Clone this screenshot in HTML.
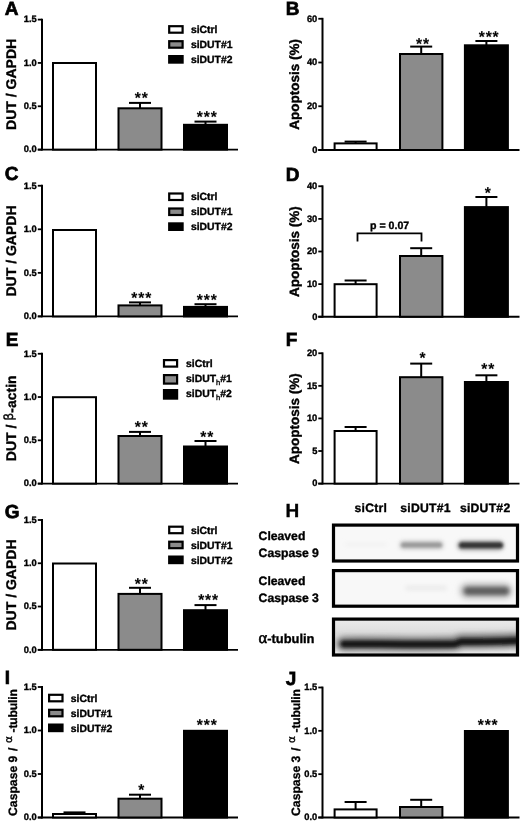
<!DOCTYPE html>
<html><head><meta charset="utf-8"><style>
html,body{margin:0;padding:0;background:#fff;}
text{text-rendering:geometricPrecision;}
svg{display:block;}
text{stroke:#000;stroke-width:0.35px;}
text.st{stroke-width:0.1px;}
text.rl{stroke-width:0.3px;}
text.lt{stroke-width:0.7px;}
</style></head><body>
<svg width="520" height="822" viewBox="0 0 520 822" font-family="&quot;Liberation Sans&quot;, Arial, sans-serif">
<rect width="520" height="822" fill="#fff"/>
<line x1="42.00" y1="18.70" x2="42.00" y2="150.50" stroke="#000" stroke-width="2"/>
<line x1="37.80" y1="149.60" x2="238.00" y2="149.60" stroke="#000" stroke-width="1.8"/>
<line x1="37.80" y1="149.60" x2="42.00" y2="149.60" stroke="#000" stroke-width="1.8"/>
<text x="36.80" y="152.40" font-size="9.3" font-weight="bold" text-anchor="end">0.0</text>
<line x1="37.80" y1="106.27" x2="42.00" y2="106.27" stroke="#000" stroke-width="1.8"/>
<text x="36.80" y="109.07" font-size="9.3" font-weight="bold" text-anchor="end">0.5</text>
<line x1="37.80" y1="62.93" x2="42.00" y2="62.93" stroke="#000" stroke-width="1.8"/>
<text x="36.80" y="65.73" font-size="9.3" font-weight="bold" text-anchor="end">1.0</text>
<line x1="37.80" y1="19.60" x2="42.00" y2="19.60" stroke="#000" stroke-width="1.8"/>
<text x="36.80" y="22.40" font-size="9.3" font-weight="bold" text-anchor="end">1.5</text>
<rect x="53.00" y="63.00" width="43.00" height="86.60" fill="#fff" stroke="#000" stroke-width="2.0"/>
<rect x="118.50" y="108.30" width="43.00" height="41.30" fill="#8b8b8b" stroke="#000" stroke-width="2.0"/>
<rect x="184.00" y="124.80" width="43.00" height="24.80" fill="#000" stroke="#000" stroke-width="2.0"/>
<line x1="140.00" y1="102.90" x2="140.00" y2="108.30" stroke="#000" stroke-width="2"/>
<line x1="129.00" y1="102.90" x2="151.00" y2="102.90" stroke="#000" stroke-width="2"/>
<line x1="205.50" y1="121.60" x2="205.50" y2="124.80" stroke="#000" stroke-width="2"/>
<line x1="194.50" y1="121.60" x2="216.50" y2="121.60" stroke="#000" stroke-width="2"/>
<text x="141.75" y="102.96" font-size="15.5" font-weight="bold" text-anchor="middle" letter-spacing="0.9" class="st">**</text>
<text x="207.25" y="121.86" font-size="15.5" font-weight="bold" text-anchor="middle" letter-spacing="0.9" class="st">***</text>
<text x="4.75" y="14.90" font-size="19.0" font-weight="bold" class="lt">A</text>
<text transform="translate(16.00,84.40) rotate(-90)" font-size="14" font-weight="bold" text-anchor="middle">DUT / GAPDH</text>
<rect x="169.20" y="26.20" width="13.40" height="6.50" fill="#fff" stroke="#000" stroke-width="2.2"/>
<text x="190.90" y="33.10" font-size="10.4" font-weight="bold">siCtrl</text>
<rect x="169.20" y="41.20" width="13.40" height="6.50" fill="#8b8b8b" stroke="#000" stroke-width="2.2"/>
<text x="190.90" y="48.10" font-size="10.4" font-weight="bold">siDUT#1</text>
<rect x="169.20" y="56.10" width="13.40" height="6.50" fill="#000" stroke="#000" stroke-width="2.2"/>
<text x="190.90" y="63.00" font-size="10.4" font-weight="bold">siDUT#2</text>
<line x1="322.50" y1="17.85" x2="322.50" y2="150.90" stroke="#000" stroke-width="2"/>
<line x1="318.30" y1="150.00" x2="519.50" y2="150.00" stroke="#000" stroke-width="1.8"/>
<line x1="318.30" y1="150.00" x2="322.50" y2="150.00" stroke="#000" stroke-width="1.8"/>
<text x="317.30" y="152.80" font-size="9.3" font-weight="bold" text-anchor="end">0</text>
<line x1="318.30" y1="106.25" x2="322.50" y2="106.25" stroke="#000" stroke-width="1.8"/>
<text x="317.30" y="109.05" font-size="9.3" font-weight="bold" text-anchor="end">20</text>
<line x1="318.30" y1="62.50" x2="322.50" y2="62.50" stroke="#000" stroke-width="1.8"/>
<text x="317.30" y="65.30" font-size="9.3" font-weight="bold" text-anchor="end">40</text>
<line x1="318.30" y1="18.75" x2="322.50" y2="18.75" stroke="#000" stroke-width="1.8"/>
<text x="317.30" y="21.55" font-size="9.3" font-weight="bold" text-anchor="end">60</text>
<rect x="334.60" y="143.40" width="42.00" height="6.60" fill="#fff" stroke="#000" stroke-width="2.0"/>
<rect x="400.00" y="54.00" width="42.40" height="96.00" fill="#8b8b8b" stroke="#000" stroke-width="2.0"/>
<rect x="464.90" y="45.30" width="43.00" height="104.70" fill="#000" stroke="#000" stroke-width="2.0"/>
<line x1="355.60" y1="141.60" x2="355.60" y2="143.40" stroke="#000" stroke-width="2"/>
<line x1="344.60" y1="141.60" x2="366.60" y2="141.60" stroke="#000" stroke-width="2"/>
<line x1="421.20" y1="46.60" x2="421.20" y2="54.00" stroke="#000" stroke-width="2"/>
<line x1="410.20" y1="46.60" x2="432.20" y2="46.60" stroke="#000" stroke-width="2"/>
<line x1="486.40" y1="41.00" x2="486.40" y2="45.30" stroke="#000" stroke-width="2"/>
<line x1="475.40" y1="41.00" x2="497.40" y2="41.00" stroke="#000" stroke-width="2"/>
<text x="422.95" y="49.16" font-size="15.5" font-weight="bold" text-anchor="middle" letter-spacing="0.9" class="st">**</text>
<text x="489.15" y="42.26" font-size="15.5" font-weight="bold" text-anchor="middle" letter-spacing="0.9" class="st">***</text>
<text x="285.65" y="14.90" font-size="19.0" font-weight="bold" class="lt">B</text>
<text transform="translate(299.10,84.40) rotate(-90)" font-size="13.5" font-weight="bold" text-anchor="middle">Apoptosis (%)</text>
<line x1="42.00" y1="184.85" x2="42.00" y2="317.30" stroke="#000" stroke-width="2"/>
<line x1="37.80" y1="316.40" x2="238.00" y2="316.40" stroke="#000" stroke-width="1.8"/>
<line x1="37.80" y1="316.40" x2="42.00" y2="316.40" stroke="#000" stroke-width="1.8"/>
<text x="36.80" y="319.20" font-size="9.3" font-weight="bold" text-anchor="end">0.0</text>
<line x1="37.80" y1="272.85" x2="42.00" y2="272.85" stroke="#000" stroke-width="1.8"/>
<text x="36.80" y="275.65" font-size="9.3" font-weight="bold" text-anchor="end">0.5</text>
<line x1="37.80" y1="229.30" x2="42.00" y2="229.30" stroke="#000" stroke-width="1.8"/>
<text x="36.80" y="232.10" font-size="9.3" font-weight="bold" text-anchor="end">1.0</text>
<line x1="37.80" y1="185.75" x2="42.00" y2="185.75" stroke="#000" stroke-width="1.8"/>
<text x="36.80" y="188.55" font-size="9.3" font-weight="bold" text-anchor="end">1.5</text>
<rect x="53.00" y="230.00" width="43.00" height="86.40" fill="#fff" stroke="#000" stroke-width="2.0"/>
<rect x="118.50" y="305.40" width="43.00" height="11.00" fill="#8b8b8b" stroke="#000" stroke-width="2.0"/>
<rect x="184.00" y="306.90" width="43.00" height="9.50" fill="#000" stroke="#000" stroke-width="2.0"/>
<line x1="140.00" y1="302.40" x2="140.00" y2="305.40" stroke="#000" stroke-width="2"/>
<line x1="129.00" y1="302.40" x2="151.00" y2="302.40" stroke="#000" stroke-width="2"/>
<line x1="205.50" y1="304.20" x2="205.50" y2="306.90" stroke="#000" stroke-width="2"/>
<line x1="194.50" y1="304.20" x2="216.50" y2="304.20" stroke="#000" stroke-width="2"/>
<text x="141.75" y="302.66" font-size="15.5" font-weight="bold" text-anchor="middle" letter-spacing="0.9" class="st">***</text>
<text x="207.25" y="304.66" font-size="15.5" font-weight="bold" text-anchor="middle" letter-spacing="0.9" class="st">***</text>
<text x="4.75" y="180.40" font-size="19.0" font-weight="bold" class="lt">C</text>
<text transform="translate(16.00,251.00) rotate(-90)" font-size="14" font-weight="bold" text-anchor="middle">DUT / GAPDH</text>
<rect x="169.20" y="193.50" width="13.40" height="6.50" fill="#fff" stroke="#000" stroke-width="2.2"/>
<text x="190.90" y="200.40" font-size="10.4" font-weight="bold">siCtrl</text>
<rect x="169.20" y="208.50" width="13.40" height="6.50" fill="#8b8b8b" stroke="#000" stroke-width="2.2"/>
<text x="190.90" y="215.40" font-size="10.4" font-weight="bold">siDUT#1</text>
<rect x="169.20" y="223.40" width="13.40" height="6.50" fill="#000" stroke="#000" stroke-width="2.2"/>
<text x="190.90" y="230.30" font-size="10.4" font-weight="bold">siDUT#2</text>
<line x1="322.50" y1="185.35" x2="322.50" y2="317.65" stroke="#000" stroke-width="2"/>
<line x1="318.30" y1="316.75" x2="519.50" y2="316.75" stroke="#000" stroke-width="1.8"/>
<line x1="318.30" y1="316.75" x2="322.50" y2="316.75" stroke="#000" stroke-width="1.8"/>
<text x="317.30" y="319.55" font-size="9.3" font-weight="bold" text-anchor="end">0</text>
<line x1="318.30" y1="284.12" x2="322.50" y2="284.12" stroke="#000" stroke-width="1.8"/>
<text x="317.30" y="286.93" font-size="9.3" font-weight="bold" text-anchor="end">10</text>
<line x1="318.30" y1="251.50" x2="322.50" y2="251.50" stroke="#000" stroke-width="1.8"/>
<text x="317.30" y="254.30" font-size="9.3" font-weight="bold" text-anchor="end">20</text>
<line x1="318.30" y1="218.88" x2="322.50" y2="218.88" stroke="#000" stroke-width="1.8"/>
<text x="317.30" y="221.68" font-size="9.3" font-weight="bold" text-anchor="end">30</text>
<line x1="318.30" y1="186.25" x2="322.50" y2="186.25" stroke="#000" stroke-width="1.8"/>
<text x="317.30" y="189.05" font-size="9.3" font-weight="bold" text-anchor="end">40</text>
<rect x="334.60" y="284.20" width="42.00" height="32.55" fill="#fff" stroke="#000" stroke-width="2.0"/>
<rect x="400.00" y="256.00" width="42.40" height="60.75" fill="#8b8b8b" stroke="#000" stroke-width="2.0"/>
<rect x="464.90" y="207.10" width="43.00" height="109.65" fill="#000" stroke="#000" stroke-width="2.0"/>
<line x1="355.60" y1="280.50" x2="355.60" y2="284.20" stroke="#000" stroke-width="2"/>
<line x1="344.60" y1="280.50" x2="366.60" y2="280.50" stroke="#000" stroke-width="2"/>
<line x1="421.20" y1="248.20" x2="421.20" y2="256.00" stroke="#000" stroke-width="2"/>
<line x1="410.20" y1="248.20" x2="432.20" y2="248.20" stroke="#000" stroke-width="2"/>
<line x1="486.40" y1="197.00" x2="486.40" y2="207.10" stroke="#000" stroke-width="2"/>
<line x1="475.40" y1="197.00" x2="497.40" y2="197.00" stroke="#000" stroke-width="2"/>
<text x="488.15" y="197.96" font-size="15.5" font-weight="bold" text-anchor="middle" letter-spacing="0.9" class="st">*</text>
<text x="285.65" y="180.70" font-size="19.0" font-weight="bold" class="lt">D</text>
<text transform="translate(299.10,251.50) rotate(-90)" font-size="13.5" font-weight="bold" text-anchor="middle">Apoptosis (%)</text>
<path d="M357.5,241.5 V233.3 H421.5 V241.5" fill="none" stroke="#000" stroke-width="1.8"/>
<text x="389.6" y="229.0" font-size="10.6" font-weight="bold" text-anchor="middle">p = 0.07</text>
<line x1="42.00" y1="352.85" x2="42.00" y2="484.50" stroke="#000" stroke-width="2"/>
<line x1="37.80" y1="483.60" x2="238.00" y2="483.60" stroke="#000" stroke-width="1.8"/>
<line x1="37.80" y1="483.60" x2="42.00" y2="483.60" stroke="#000" stroke-width="1.8"/>
<text x="36.80" y="486.40" font-size="9.3" font-weight="bold" text-anchor="end">0.0</text>
<line x1="37.80" y1="440.32" x2="42.00" y2="440.32" stroke="#000" stroke-width="1.8"/>
<text x="36.80" y="443.12" font-size="9.3" font-weight="bold" text-anchor="end">0.5</text>
<line x1="37.80" y1="397.03" x2="42.00" y2="397.03" stroke="#000" stroke-width="1.8"/>
<text x="36.80" y="399.83" font-size="9.3" font-weight="bold" text-anchor="end">1.0</text>
<line x1="37.80" y1="353.75" x2="42.00" y2="353.75" stroke="#000" stroke-width="1.8"/>
<text x="36.80" y="356.55" font-size="9.3" font-weight="bold" text-anchor="end">1.5</text>
<rect x="53.00" y="397.20" width="43.00" height="86.40" fill="#fff" stroke="#000" stroke-width="2.0"/>
<rect x="118.50" y="436.00" width="43.00" height="47.60" fill="#8b8b8b" stroke="#000" stroke-width="2.0"/>
<rect x="184.00" y="446.50" width="43.00" height="37.10" fill="#000" stroke="#000" stroke-width="2.0"/>
<line x1="140.00" y1="431.90" x2="140.00" y2="436.00" stroke="#000" stroke-width="2"/>
<line x1="129.00" y1="431.90" x2="151.00" y2="431.90" stroke="#000" stroke-width="2"/>
<line x1="205.50" y1="441.00" x2="205.50" y2="446.50" stroke="#000" stroke-width="2"/>
<line x1="194.50" y1="441.00" x2="216.50" y2="441.00" stroke="#000" stroke-width="2"/>
<text x="141.75" y="432.46" font-size="15.5" font-weight="bold" text-anchor="middle" letter-spacing="0.9" class="st">**</text>
<text x="207.25" y="442.46" font-size="15.5" font-weight="bold" text-anchor="middle" letter-spacing="0.9" class="st">**</text>
<text x="5.65" y="346.20" font-size="19.0" font-weight="bold" class="lt">E</text>
<text transform="translate(15.60,418.30) rotate(-90)" font-size="14" font-weight="bold" text-anchor="middle">DUT / <tspan font-family="DejaVu Sans" font-weight="normal" font-size="12.5" dy="-2.6">β</tspan><tspan dy="2.6">-actin</tspan></text>
<rect x="164.00" y="360.10" width="13.10" height="6.50" fill="#fff" stroke="#000" stroke-width="2.2"/>
<text x="186.00" y="367.00" font-size="10.4" font-weight="bold">siCtrl</text>
<rect x="164.00" y="375.10" width="13.10" height="8.50" fill="#8b8b8b" stroke="#000" stroke-width="2.2"/>
<text x="186.00" y="382.00" font-size="10.4" font-weight="bold">siDUT<tspan font-size="7.5" font-weight="normal" dy="2.5">h</tspan><tspan dy="-2.5">#1</tspan></text>
<rect x="164.00" y="390.10" width="13.10" height="8.50" fill="#000" stroke="#000" stroke-width="2.2"/>
<text x="186.00" y="397.00" font-size="10.4" font-weight="bold">siDUT<tspan font-size="7.5" font-weight="normal" dy="2.5">h</tspan><tspan dy="-2.5">#2</tspan></text>
<line x1="322.50" y1="352.35" x2="322.50" y2="484.50" stroke="#000" stroke-width="2"/>
<line x1="318.30" y1="483.60" x2="519.50" y2="483.60" stroke="#000" stroke-width="1.8"/>
<line x1="318.30" y1="483.60" x2="322.50" y2="483.60" stroke="#000" stroke-width="1.8"/>
<text x="317.30" y="486.40" font-size="9.3" font-weight="bold" text-anchor="end">0</text>
<line x1="318.30" y1="451.01" x2="322.50" y2="451.01" stroke="#000" stroke-width="1.8"/>
<text x="317.30" y="453.81" font-size="9.3" font-weight="bold" text-anchor="end">5</text>
<line x1="318.30" y1="418.43" x2="322.50" y2="418.43" stroke="#000" stroke-width="1.8"/>
<text x="317.30" y="421.23" font-size="9.3" font-weight="bold" text-anchor="end">10</text>
<line x1="318.30" y1="385.84" x2="322.50" y2="385.84" stroke="#000" stroke-width="1.8"/>
<text x="317.30" y="388.64" font-size="9.3" font-weight="bold" text-anchor="end">15</text>
<line x1="318.30" y1="353.25" x2="322.50" y2="353.25" stroke="#000" stroke-width="1.8"/>
<text x="317.30" y="356.05" font-size="9.3" font-weight="bold" text-anchor="end">20</text>
<rect x="334.60" y="431.00" width="42.00" height="52.60" fill="#fff" stroke="#000" stroke-width="2.0"/>
<rect x="400.00" y="377.20" width="42.40" height="106.40" fill="#8b8b8b" stroke="#000" stroke-width="2.0"/>
<rect x="464.90" y="382.00" width="43.00" height="101.60" fill="#000" stroke="#000" stroke-width="2.0"/>
<line x1="355.60" y1="427.00" x2="355.60" y2="431.00" stroke="#000" stroke-width="2"/>
<line x1="344.60" y1="427.00" x2="366.60" y2="427.00" stroke="#000" stroke-width="2"/>
<line x1="421.20" y1="363.60" x2="421.20" y2="377.20" stroke="#000" stroke-width="2"/>
<line x1="410.20" y1="363.60" x2="432.20" y2="363.60" stroke="#000" stroke-width="2"/>
<line x1="486.40" y1="375.30" x2="486.40" y2="382.00" stroke="#000" stroke-width="2"/>
<line x1="475.40" y1="375.30" x2="497.40" y2="375.30" stroke="#000" stroke-width="2"/>
<text x="422.95" y="363.46" font-size="15.5" font-weight="bold" text-anchor="middle" letter-spacing="0.9" class="st">*</text>
<text x="488.15" y="374.46" font-size="15.5" font-weight="bold" text-anchor="middle" letter-spacing="0.9" class="st">**</text>
<text x="285.65" y="346.20" font-size="19.0" font-weight="bold" class="lt">F</text>
<text transform="translate(299.10,418.50) rotate(-90)" font-size="13.5" font-weight="bold" text-anchor="middle">Apoptosis (%)</text>
<line x1="42.00" y1="519.10" x2="42.00" y2="650.70" stroke="#000" stroke-width="2"/>
<line x1="37.80" y1="649.80" x2="238.00" y2="649.80" stroke="#000" stroke-width="1.8"/>
<line x1="37.80" y1="649.80" x2="42.00" y2="649.80" stroke="#000" stroke-width="1.8"/>
<text x="36.80" y="652.60" font-size="9.3" font-weight="bold" text-anchor="end">0.0</text>
<line x1="37.80" y1="606.53" x2="42.00" y2="606.53" stroke="#000" stroke-width="1.8"/>
<text x="36.80" y="609.33" font-size="9.3" font-weight="bold" text-anchor="end">0.5</text>
<line x1="37.80" y1="563.27" x2="42.00" y2="563.27" stroke="#000" stroke-width="1.8"/>
<text x="36.80" y="566.07" font-size="9.3" font-weight="bold" text-anchor="end">1.0</text>
<line x1="37.80" y1="520.00" x2="42.00" y2="520.00" stroke="#000" stroke-width="1.8"/>
<text x="36.80" y="522.80" font-size="9.3" font-weight="bold" text-anchor="end">1.5</text>
<rect x="53.00" y="563.50" width="43.00" height="86.30" fill="#fff" stroke="#000" stroke-width="2.0"/>
<rect x="118.50" y="593.90" width="43.00" height="55.90" fill="#8b8b8b" stroke="#000" stroke-width="2.0"/>
<rect x="184.00" y="610.20" width="43.00" height="39.60" fill="#000" stroke="#000" stroke-width="2.0"/>
<line x1="140.00" y1="587.80" x2="140.00" y2="593.90" stroke="#000" stroke-width="2"/>
<line x1="129.00" y1="587.80" x2="151.00" y2="587.80" stroke="#000" stroke-width="2"/>
<line x1="205.50" y1="605.10" x2="205.50" y2="610.20" stroke="#000" stroke-width="2"/>
<line x1="194.50" y1="605.10" x2="216.50" y2="605.10" stroke="#000" stroke-width="2"/>
<text x="141.75" y="588.56" font-size="15.5" font-weight="bold" text-anchor="middle" letter-spacing="0.9" class="st">**</text>
<text x="208.55" y="605.26" font-size="15.5" font-weight="bold" text-anchor="middle" letter-spacing="0.9" class="st">***</text>
<text x="4.75" y="517.50" font-size="19.0" font-weight="bold" class="lt">G</text>
<text transform="translate(16.00,585.00) rotate(-90)" font-size="14" font-weight="bold" text-anchor="middle">DUT / GAPDH</text>
<rect x="169.20" y="526.70" width="13.40" height="6.50" fill="#fff" stroke="#000" stroke-width="2.2"/>
<text x="190.90" y="533.60" font-size="10.4" font-weight="bold">siCtrl</text>
<rect x="169.20" y="541.70" width="13.40" height="6.50" fill="#8b8b8b" stroke="#000" stroke-width="2.2"/>
<text x="190.90" y="548.60" font-size="10.4" font-weight="bold">siDUT#1</text>
<rect x="169.20" y="556.60" width="13.40" height="6.50" fill="#000" stroke="#000" stroke-width="2.2"/>
<text x="190.90" y="563.50" font-size="10.4" font-weight="bold">siDUT#2</text>
<line x1="42.00" y1="686.10" x2="42.00" y2="818.40" stroke="#000" stroke-width="2"/>
<line x1="37.80" y1="817.50" x2="238.00" y2="817.50" stroke="#000" stroke-width="1.8"/>
<line x1="37.80" y1="817.50" x2="42.00" y2="817.50" stroke="#000" stroke-width="1.8"/>
<text x="36.80" y="820.30" font-size="9.3" font-weight="bold" text-anchor="end">0.0</text>
<line x1="37.80" y1="774.00" x2="42.00" y2="774.00" stroke="#000" stroke-width="1.8"/>
<text x="36.80" y="776.80" font-size="9.3" font-weight="bold" text-anchor="end">0.5</text>
<line x1="37.80" y1="730.50" x2="42.00" y2="730.50" stroke="#000" stroke-width="1.8"/>
<text x="36.80" y="733.30" font-size="9.3" font-weight="bold" text-anchor="end">1.0</text>
<line x1="37.80" y1="687.00" x2="42.00" y2="687.00" stroke="#000" stroke-width="1.8"/>
<text x="36.80" y="689.80" font-size="9.3" font-weight="bold" text-anchor="end">1.5</text>
<rect x="53.00" y="814.00" width="43.00" height="3.50" fill="#fff" stroke="#000" stroke-width="2.0"/>
<rect x="118.50" y="798.70" width="43.00" height="18.80" fill="#8b8b8b" stroke="#000" stroke-width="2.0"/>
<rect x="184.00" y="730.80" width="43.00" height="86.70" fill="#000" stroke="#000" stroke-width="2.0"/>
<line x1="74.50" y1="812.40" x2="74.50" y2="814.00" stroke="#000" stroke-width="2"/>
<line x1="63.50" y1="812.40" x2="85.50" y2="812.40" stroke="#000" stroke-width="2"/>
<line x1="140.00" y1="794.70" x2="140.00" y2="798.70" stroke="#000" stroke-width="2"/>
<line x1="129.00" y1="794.70" x2="151.00" y2="794.70" stroke="#000" stroke-width="2"/>
<text x="141.75" y="795.16" font-size="15.5" font-weight="bold" text-anchor="middle" letter-spacing="0.9" class="st">*</text>
<text x="207.25" y="730.36" font-size="15.5" font-weight="bold" text-anchor="middle" letter-spacing="0.9" class="st">***</text>
<text x="4.85" y="683.70" font-size="19.0" font-weight="bold" class="lt">I</text>
<text transform="translate(17.10,752.60) rotate(-90)" font-size="12.2" font-weight="bold" text-anchor="middle" class="rl">Caspase 9<tspan dx="1.3"> /</tspan> <tspan font-family="DejaVu Sans" font-weight="normal" font-size="10.5" dx="1.1" dy="-4.8">α</tspan><tspan dy="4.8" dx="3.7" letter-spacing="-0.19">-tubulin</tspan></text>
<rect x="49.10" y="694.80" width="13.40" height="6.50" fill="#fff" stroke="#000" stroke-width="2.2"/>
<text x="70.80" y="701.70" font-size="10.4" font-weight="bold">siCtrl</text>
<rect x="49.10" y="709.80" width="13.40" height="6.50" fill="#8b8b8b" stroke="#000" stroke-width="2.2"/>
<text x="70.80" y="716.70" font-size="10.4" font-weight="bold">siDUT#1</text>
<rect x="49.10" y="724.60" width="13.40" height="6.50" fill="#000" stroke="#000" stroke-width="2.2"/>
<text x="70.80" y="731.50" font-size="10.4" font-weight="bold">siDUT#2</text>
<line x1="322.50" y1="686.60" x2="322.50" y2="818.40" stroke="#000" stroke-width="2"/>
<line x1="318.30" y1="817.50" x2="519.50" y2="817.50" stroke="#000" stroke-width="1.8"/>
<line x1="318.30" y1="817.50" x2="322.50" y2="817.50" stroke="#000" stroke-width="1.8"/>
<text x="317.30" y="820.30" font-size="9.3" font-weight="bold" text-anchor="end">0.0</text>
<line x1="318.30" y1="774.17" x2="322.50" y2="774.17" stroke="#000" stroke-width="1.8"/>
<text x="317.30" y="776.97" font-size="9.3" font-weight="bold" text-anchor="end">0.5</text>
<line x1="318.30" y1="730.83" x2="322.50" y2="730.83" stroke="#000" stroke-width="1.8"/>
<text x="317.30" y="733.63" font-size="9.3" font-weight="bold" text-anchor="end">1.0</text>
<line x1="318.30" y1="687.50" x2="322.50" y2="687.50" stroke="#000" stroke-width="1.8"/>
<text x="317.30" y="690.30" font-size="9.3" font-weight="bold" text-anchor="end">1.5</text>
<rect x="334.60" y="809.40" width="42.00" height="8.10" fill="#fff" stroke="#000" stroke-width="2.0"/>
<rect x="400.00" y="807.00" width="42.40" height="10.50" fill="#8b8b8b" stroke="#000" stroke-width="2.0"/>
<rect x="464.90" y="731.00" width="43.00" height="86.50" fill="#000" stroke="#000" stroke-width="2.0"/>
<line x1="355.60" y1="802.00" x2="355.60" y2="809.40" stroke="#000" stroke-width="2"/>
<line x1="344.60" y1="802.00" x2="366.60" y2="802.00" stroke="#000" stroke-width="2"/>
<line x1="421.20" y1="799.80" x2="421.20" y2="807.00" stroke="#000" stroke-width="2"/>
<line x1="410.20" y1="799.80" x2="432.20" y2="799.80" stroke="#000" stroke-width="2"/>
<text x="488.15" y="730.26" font-size="15.5" font-weight="bold" text-anchor="middle" letter-spacing="0.9" class="st">***</text>
<text x="285.65" y="684.50" font-size="19.0" font-weight="bold" class="lt">J</text>
<text transform="translate(299.60,752.60) rotate(-90)" font-size="12.2" font-weight="bold" text-anchor="middle" class="rl">Caspase 3<tspan dx="1.3"> /</tspan> <tspan font-family="DejaVu Sans" font-weight="normal" font-size="10.5" dx="1.1" dy="-4.8">α</tspan><tspan dy="4.8" dx="3.7" letter-spacing="-0.19">-tubulin</tspan></text>
<g id="blot">
<defs>
<filter id="bl1" filterUnits="userSpaceOnUse" x="330" y="515" width="195" height="150"><feGaussianBlur stdDeviation="1.4"/></filter>
<filter id="bl2" filterUnits="userSpaceOnUse" x="330" y="515" width="195" height="150"><feGaussianBlur stdDeviation="2.2"/></filter>
<filter id="bl3" filterUnits="userSpaceOnUse" x="330" y="515" width="195" height="150"><feGaussianBlur stdDeviation="3.2"/></filter>
<linearGradient id="tubbg" x1="0" y1="0" x2="0" y2="1">
<stop offset="0" stop-color="#ebebeb"/>
<stop offset="0.4" stop-color="#dddddd"/>
<stop offset="0.8" stop-color="#e8e8e8"/>
<stop offset="1" stop-color="#f4f4f4"/>
</linearGradient>
<clipPath id="c1"><rect x="335" y="526.6" width="181" height="33"/></clipPath>
<clipPath id="c2"><rect x="335" y="572.1" width="181" height="32.6"/></clipPath>
<clipPath id="c3"><rect x="335" y="620.6" width="181" height="32.9"/></clipPath>
</defs>
<text x="285.6" y="516.9" font-size="19.0" font-weight="bold">H</text>
<g font-size="12.2" font-weight="bold">
<text x="354.5" y="511.8" letter-spacing="0.25">siCtrl</text>
<text x="400.3" y="511.8" letter-spacing="0.25">siDUT#1</text>
<text x="459.9" y="511.8" letter-spacing="0.25">siDUT#2</text>
<text x="258.6" y="540.0">Cleaved</text>
<text x="258.6" y="557.4">Caspase 9</text>
<text x="258.6" y="584.8">Cleaved</text>
<text x="258.6" y="602.0">Caspase 3</text>
<text x="258.6" y="643.2"><tspan font-family="Liberation Serif" font-weight="normal" font-size="16.5" style="stroke-width:0.6px">α</tspan><tspan font-size="12.9">-tubulin</tspan></text>
</g>
<rect x="333.5" y="525.1" width="184" height="35.9" fill="#f8f8f8"/>
<rect x="333.5" y="570.6" width="184" height="35.6" fill="#f8f8f8"/>
<rect x="333.5" y="619.1" width="184" height="35.9" fill="url(#tubbg)"/>
<g clip-path="url(#c1)">
<rect x="345" y="542.5" width="42" height="4" rx="2" fill="#f2f2f2" filter="url(#bl2)"/>
<rect x="399" y="540.5" width="45" height="9" rx="4.5" fill="#d0d0d0" filter="url(#bl2)"/>
<rect x="401" y="542.5" width="41" height="5" rx="2.5" fill="#989898" filter="url(#bl1)"/>
<rect x="457" y="540.5" width="47" height="10" rx="5" fill="#aaa" filter="url(#bl2)"/>
<rect x="459" y="542.3" width="44" height="6" rx="3" fill="#333" filter="url(#bl1)"/>
</g>
<g clip-path="url(#c2)">
<rect x="405" y="585.5" width="42" height="5" rx="2.5" fill="#ebebeb" filter="url(#bl2)"/>
<rect x="460" y="583.5" width="52" height="14.5" rx="7" fill="#b4b4b4" filter="url(#bl3)"/>
<rect x="464" y="587.3" width="45" height="7.5" rx="3.7" fill="#5a5a5a" filter="url(#bl2)"/>
</g>
<g clip-path="url(#c3)">
<path d="M343,644 C360,643 420,645 455,643.8 L461,641.5 C480,641.5 500,641.2 517,640.5" fill="none" stroke="#555" stroke-width="13" stroke-linecap="round" filter="url(#bl3)"/>
<path d="M344,644 C360,643.5 420,645.1 455,644 L461,641.7 C480,641.8 500,641.5 517,640.7" fill="none" stroke="#141414" stroke-width="6" stroke-linecap="round" filter="url(#bl1)"/>
</g>
<rect x="333.5" y="525.1" width="184" height="35.9" fill="none" stroke="#000" stroke-width="3.2"/>
<rect x="333.5" y="570.6" width="184" height="35.6" fill="none" stroke="#000" stroke-width="3.2"/>
<rect x="333.5" y="619.1" width="184" height="35.9" fill="none" stroke="#000" stroke-width="3.2"/>
</g>

</svg>
</body></html>
